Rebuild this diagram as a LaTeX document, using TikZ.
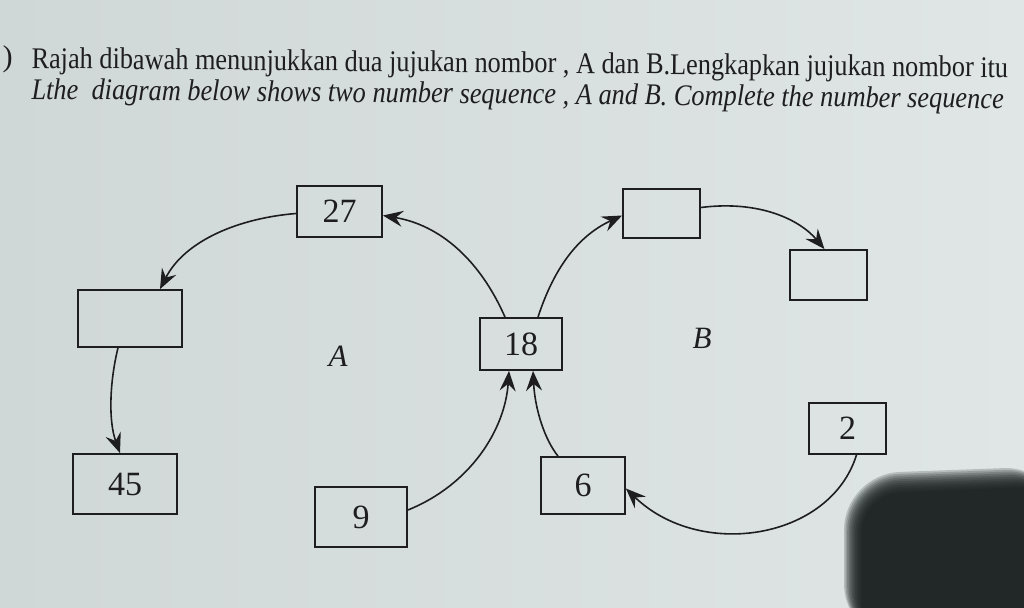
\documentclass[tikz,border=0pt]{standalone}
\usepackage{fontspec}
\setmainfont{Liberation Serif}
\usetikzlibrary{arrows.meta,calc}
\definecolor{paper}{RGB}{224,230,230}
\definecolor{paperdark}{RGB}{208,215,215}
\definecolor{ink}{RGB}{30,30,32}
\definecolor{shadow}{RGB}{22,28,28}
\tikzset{
  numbox/.style={draw=ink,line width=1.8pt,minimum width=#1,inner sep=0pt,font=\fontsize{34}{36}\selectfont,text=ink},
  seqarrow/.style={draw=ink,line width=1.6pt,-{Stealth[length=20pt,width=16pt,inset=7pt]}},
  seqlabel/.style={font=\fontsize{31}{33}\selectfont\itshape,text=ink},
  headtext/.style={anchor=base west,text=ink,font=\fontsize{30}{32}\selectfont,rotate=-0.55}
}
\begin{document}
\begin{tikzpicture}[x=1pt,y=-1pt]
\useasboundingbox (0,0) rectangle (1024,607);
\shade[left color=paperdark,right color=paper] (0,0) rectangle (1024,607);
% shadow at bottom right (soft edge built from layers)
\foreach \i in {0,...,11}{
  \fill[shadow,opacity=0.2,rounded corners={(56-1.5*\i)*1pt}]
    ({844+1.6*\i},640) -- ({844+1.6*\i},{474+1.8*\i}) -- (1060,{466+1.8*\i}) -- (1060,640) -- cycle;
}
% header
\node[headtext] (q) at (-1,66) {)};
\node[headtext] (h1) at (28,68) {\scalebox{0.876}[1]{Rajah dibawah menunjukkan dua jujukan nombor , A dan B.Lengkapkan jujukan nombor itu}};
\node[headtext,font=\fontsize{30}{32}\selectfont\itshape] (h2) at (28,99) {\scalebox{0.878}[1]{Lthe\ \ diagram below shows two number sequence , A and B. Complete the number sequence}};
% boxes
\node[numbox=85pt,minimum height=51pt] (n27) at (339.5,211.5) {27};
\node[numbox=104pt,minimum height=57pt] (nL) at (130,318.5) {};
\node[numbox=104pt,minimum height=60pt] (n45) at (125,484) {45};
\node[numbox=92pt,minimum height=60pt] (n9) at (361,517) {9};
\node[numbox=82pt,minimum height=52pt] (n18) at (521,344) {18};
\node[numbox=84pt,minimum height=57pt] (n6) at (583,485.5) {6};
\node[numbox=77pt,minimum height=49pt] (nTR) at (661.5,213.5) {};
\node[numbox=77pt,minimum height=50pt] (nR) at (828.5,275) {};
\node[numbox=77pt,minimum height=51pt] (n2) at (847.5,428.5) {2};
% labels
\node[seqlabel] (la) at (338,356) {A};
\node[seqlabel] (lb) at (702,338) {B};
% connectors
\draw[seqarrow] ([yshift=-2pt]n27.west) .. controls (240,218) and (185,240) .. ($(nL.north)+(30,0)$);
\draw[seqarrow] ($(nL.south)+(-12,0)$) .. controls (110,380) and (108,420) .. ($(n45.north)+(-5,0)$);
\draw[seqarrow] ($(n18.north)+(-16,0)$) .. controls (480,260) and (440,225) .. ([yshift=-4pt]n27.east);
\draw[seqarrow] ($(n18.north)+(17,0)$) .. controls (555,265) and (580,235) .. ([yshift=-2pt]nTR.west);
\draw[seqarrow] ([yshift=6pt]nTR.east) .. controls (760,200) and (800,220) .. ($(nR.north)+(-4,0)$);
\draw[seqarrow] ([yshift=7pt]n9.east) .. controls (470,485) and (505,430) .. ($(n18.south)+(-12,0)$);
\draw[seqarrow] ($(n6.north)+(-25,0)$) .. controls (545,440) and (535,410) .. ($(n18.south)+(12,0)$);
\draw[seqarrow] ($(n2.south)+(9,0)$) .. controls (830,540) and (700,560) .. ([yshift=-3pt]n6.east);
\end{tikzpicture}
\end{document}
